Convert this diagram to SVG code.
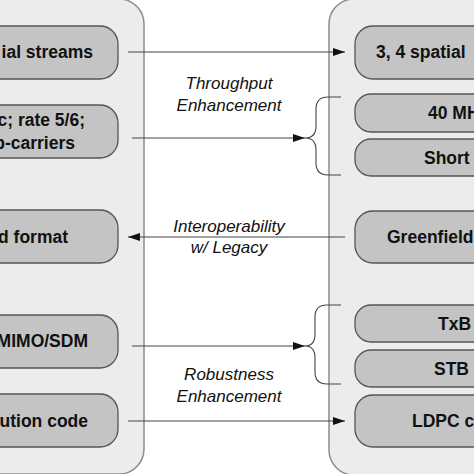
<svg xmlns="http://www.w3.org/2000/svg" width="474" height="474" viewBox="0 0 474 474">
<style>
.panel{fill:#ececec;stroke:#8c8c8c;stroke-width:1.5}
.node{fill:#c4c4c4;stroke:#555;stroke-width:1.3}
.nt{font-family:"Liberation Sans",Arial,sans-serif;font-weight:bold;font-size:17.5px;fill:#111}
.lbl{font-family:"Liberation Sans",Arial,sans-serif;font-style:italic;font-size:17px;fill:#111;text-anchor:middle}
.conn{fill:none;stroke:#444;stroke-width:1.1}
</style>
<defs>
<marker id="ah" markerUnits="userSpaceOnUse" markerWidth="13" markerHeight="9" refX="12" refY="4" orient="auto">
<path d="M0,0 L12,4 L0,8 z" fill="#111"/>
</marker>
</defs>
<g id="left-panel"><rect class="panel" x="-30" y="-1" width="174" height="475" rx="25"/></g>
<g id="right-panel"><rect class="panel" x="329" y="-1" width="180" height="476" rx="25"/></g>
<g id="L1"><rect class="node" x="-30" y="26" width="148" height="53" rx="18"/><text class="nt" x="93" y="58" text-anchor="end">ial streams</text></g>
<g id="L2"><rect class="node" x="-30" y="105" width="148" height="53" rx="18"/><text class="nt" x="85" y="126" text-anchor="end">c; rate 5/6;</text><text class="nt" x="75" y="149" text-anchor="end">b-carriers</text></g>
<g id="L3"><rect class="node" x="-30" y="210" width="148" height="53" rx="18"/><text class="nt" x="68" y="243" text-anchor="end">d format</text></g>
<g id="L4"><rect class="node" x="-30" y="315" width="148" height="53" rx="18"/><text class="nt" x="88" y="347" text-anchor="end">MIMO/SDM</text></g>
<g id="L5"><rect class="node" x="-30" y="394" width="148" height="53" rx="18"/><text class="nt" x="88" y="427" text-anchor="end">ution code</text></g>
<g id="R1"><rect class="node" x="355" y="26" width="150" height="53" rx="18"/><text class="nt" x="376" y="58">3, 4 spatial</text></g>
<g id="R2"><rect class="node" x="355" y="94" width="150" height="38" rx="16"/><text class="nt" x="428" y="119">40 MH</text></g>
<g id="R3"><rect class="node" x="355" y="139" width="150" height="37" rx="16"/><text class="nt" x="424" y="164">Short</text></g>
<g id="R4"><rect class="node" x="355" y="211" width="150" height="52" rx="18"/><text class="nt" x="387" y="243">Greenfield</text></g>
<g id="R5"><rect class="node" x="355" y="305" width="150" height="37" rx="16"/><text class="nt" x="438" y="330">TxB</text></g>
<g id="R6"><rect class="node" x="355" y="350" width="150" height="37" rx="16"/><text class="nt" x="434" y="375">STB</text></g>
<g id="R7"><rect class="node" x="355" y="395" width="150" height="52" rx="18"/><text class="nt" x="412" y="427">LDPC c</text></g>
<g id="connectors">
<path class="conn" d="M128,52 H345" marker-end="url(#ah)"/>
<path class="conn" d="M132,138 H305" marker-end="url(#ah)"/>
<path class="conn" d="M345,237 H128" marker-end="url(#ah)"/>
<path class="conn" d="M132,346 H305" marker-end="url(#ah)"/>
<path class="conn" d="M128,421 H345" marker-end="url(#ah)"/>
<path class="conn" d="M341,97 H328 Q316,97 316,109 V126 Q316,138 305,138 Q316,138 316,150 V163 Q316,175 328,175 H341"/>
<path class="conn" d="M341,305 H327 Q315,305 315,317 V334 Q315,346 305,346 Q315,346 315,358 V372 Q315,384 327,384 H341"/>
</g>
<g id="labels">
<text class="lbl" x="229" y="89">Throughput</text>
<text class="lbl" x="229" y="111">Enhancement</text>
<text class="lbl" x="229" y="232">Interoperability</text>
<text class="lbl" x="229" y="253">w/ Legacy</text>
<text class="lbl" x="229" y="380">Robustness</text>
<text class="lbl" x="229" y="402">Enhancement</text>
</g>
</svg>
